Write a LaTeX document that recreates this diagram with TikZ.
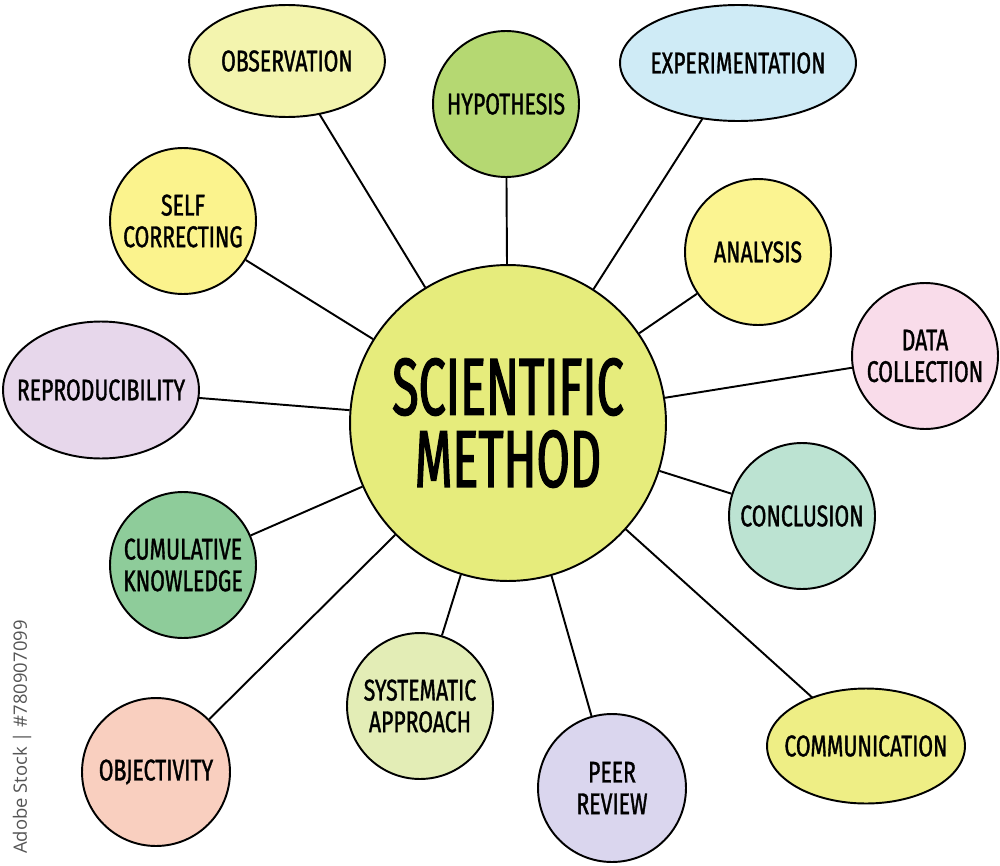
\documentclass[tikz,border=0pt]{standalone}
\usepackage{fontspec}
\setmainfont[FakeStretch=0.71, FakeBold=1.2]{Fira Sans}
\newfontfamily\bigfont[FakeStretch=0.6, FakeBold=1.6]{Fira Sans}
\newfontfamily\wmfont{Open Sans}
\usetikzlibrary{shapes.geometric}
\definecolor{cmain}{HTML}{E6EC7C}
\definecolor{cobs}{HTML}{F3F4AE}
\definecolor{chyp}{HTML}{B5D872}
\definecolor{cexp}{HTML}{CFEBF6}
\definecolor{cana}{HTML}{FBF491}
\definecolor{cdat}{HTML}{F9DCEA}
\definecolor{ccon}{HTML}{BCE3D2}
\definecolor{ccom}{HTML}{EEEE85}
\definecolor{cpee}{HTML}{DAD6EE}
\definecolor{csys}{HTML}{E3EDB6}
\definecolor{cobj}{HTML}{F9CFBF}
\definecolor{ccum}{HTML}{8ECC9A}
\definecolor{crep}{HTML}{E7D7EB}
\definecolor{csel}{HTML}{FBF38D}
\definecolor{cwm}{HTML}{555555}
\tikzset{
  bub/.style={circle, draw=black, line width=1.1pt, inner sep=0pt, align=center,
    font=\fontsize{17}{18}\selectfont, text=black, minimum size=2.92cm},
  ell/.style={ellipse, draw=black, line width=1.1pt, inner sep=0pt, outer sep=0pt, align=center,
    font=\fontsize{17}{18}\selectfont, text=black},
  link/.style={draw=black, line width=1.1pt}
}
\begin{document}
\begin{tikzpicture}[x=0.02cm,y=-0.02cm]
\useasboundingbox (0,0) rectangle (1000,865);
\node[circle, draw=black, line width=1.1pt, fill=cmain, minimum size=6.32cm, inner sep=0pt,
  align=center, font=\bigfont\fontsize{46}{41}\selectfont] (main) at (508,423) {SCIENTIFIC\\METHOD};
\node[ell, fill=cobs, minimum width=3.92cm, minimum height=2.24cm] (obs) at (287,61) {\makebox[0pt]{OBSERVATION}};
\node[bub, fill=chyp] (hyp) at (506,104) {HYPOTHESIS};
\node[ell, fill=cexp, minimum width=4.72cm, minimum height=2.32cm] (exp) at (738,63) {\makebox[0pt]{EXPERIMENTATION}};
\node[bub, fill=cana] (ana) at (758,252) {ANALYSIS};
\node[bub, fill=cdat] (dat) at (925,356) {DATA\\COLLECTION};
\node[bub, fill=ccon] (con) at (802,516) {CONCLUSION};
\node[ell, fill=ccom, minimum width=3.96cm, minimum height=2.3cm] (com) at (866,746) {\makebox[0pt]{COMMUNICATION}};
\node[bub, fill=cpee, minimum size=2.96cm] (pee) at (612,788) {PEER\\REVIEW};
\node[bub, fill=csys] (sys) at (420,706) {SYSTEMATIC\\APPROACH};
\node[bub, fill=cobj, minimum size=2.96cm] (obj) at (156,772) {OBJECTIVITY};
\node[bub, fill=ccum] (cum) at (183,565) {CUMULATIVE\\KNOWLEDGE};
\node[ell, fill=crep, minimum width=3.92cm, minimum height=2.74cm] (rep) at (101,390) {\makebox[0pt]{REPRODUCIBILITY}};
\node[bub, fill=csel] (sel) at (183,221) {SELF\\CORRECTING};
\foreach \n in {obs,hyp,exp,ana,dat,con,com,pee,sys,obj,cum,rep,sel}
  \draw[link] (main) -- (\n);
\node[rotate=90, text=cwm, font=\wmfont\fontsize{10.5}{12}\selectfont, inner sep=0pt] (wm) at (22,737) {Adobe Stock | \#780907099};
\end{tikzpicture}
\end{document}
